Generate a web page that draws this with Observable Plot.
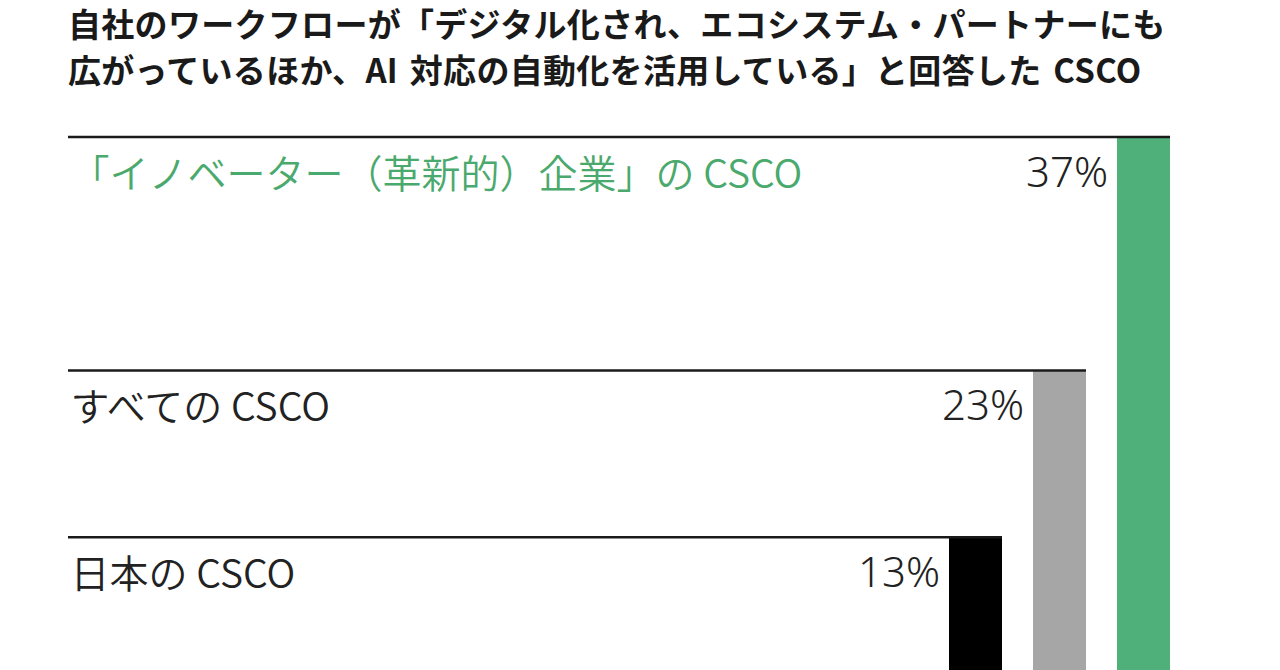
<!DOCTYPE html>
<html lang="ja">
<head>
<meta charset="utf-8">
<script src="https://cdn.jsdelivr.net/npm/d3@7"></script>
<script src="https://cdn.jsdelivr.net/npm/@observablehq/plot@0.6"></script>
<style>
  html, body { margin: 0; padding: 0; background: #fff; overflow: hidden; }
  #title {
    box-sizing: border-box;
    height: 112px;
    padding-left: 68px;
    font-family: "Noto Sans CJK JP", "Noto Sans", sans-serif;
    font-weight: 700;
    font-size: 33px;
    line-height: 46px;
    letter-spacing: 0.3px;
    word-spacing: 4px;
    color: #1a1a1a;
    white-space: nowrap;
  }
  #chart svg { display: block; }
</style>
</head>
<body>
<div id="title">自社のワークフローが「デジタル化され、エコシステム・パートナーにも<br>広がっているほか、AI 対応の自動化を活用している」と回答した CSCO</div>
<div id="chart"></div>
<script>
const categories = ["「イノベーター（革新的）企業」の CSCO", "すべての CSCO", "日本の CSCO"];
const values = [37, 23, 13];
const valueLabels = ["37%", "23%", "13%"];
const barColors = ["#50b07a", "#a6a6a6", "#000000"];
const labelColors = ["#4aa96c", "#222222", "#222222"];

const rows = categories.map((c, i) => ({
  category: c,
  value: values[i],
  valueLabel: valueLabels[i],
  barColor: barColors[i],
  labelColor: labelColors[i]
}));

const FONT = "'Noto Sans CJK JP', 'Noto Sans', sans-serif";

function categoryRules(index, scales, channels, dims) {
  const x = scales.x, y = scales.y;
  const bw = x.bandwidth ? x.bandwidth() : 54;
  const g = d3.create("svg:g");
  g.selectAll("line").data(rows).join("line")
    .attr("x1", dims.marginLeft)
    .attr("x2", d => x(d.category) + bw)
    .attr("y1", d => y(d.value))
    .attr("y2", d => y(d.value))
    .attr("stroke", "#1a1a1a")
    .attr("stroke-width", 2.6);
  return g.node();
}

const chart = Plot.plot({
  width: 1280,
  height: 558,
  marginLeft: 68,
  marginRight: 0,
  marginTop: 0,
  marginBottom: 0,
  x: {type: "band", domain: categories.slice().reverse(), range: [917, 1203], padding: 0.365, axis: null},
  y: {domain: [0, d3.max(values)], range: [642, 25], axis: null},
  color: {type: "identity"},
  marks: [
    Plot.barY(rows, {x: "category", y: "value", fill: "barColor"}),
    categoryRules,
    Plot.text(rows, {
      y: "value", text: "category", frameAnchor: "left", textAnchor: "start",
      lineAnchor: "bottom", dx: 2, dy: 50, fill: "labelColor",
      fontSize: 39, fontWeight: 350, fontFamily: FONT
    }),
    Plot.text(rows, {
      x: "category", y: "value", text: "valueLabel", textAnchor: "end",
      lineAnchor: "bottom", dx: -36, dy: 49, fill: "#222222",
      fontSize: 42, fontWeight: 350, fontFamily: "'Noto Sans', sans-serif"
    })
  ]
});
document.getElementById("chart").appendChild(chart);
</script>
</body>
</html>
